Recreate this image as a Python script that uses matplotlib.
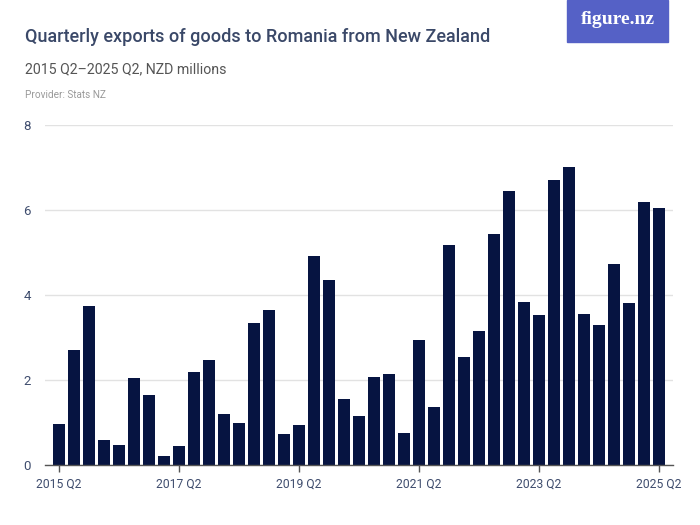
import matplotlib
matplotlib.use("Agg")
import matplotlib.pyplot as plt
from matplotlib.patches import Rectangle

values = [0.96, 2.71, 3.74, 0.59, 0.47, 2.05, 1.65, 0.21, 0.44, 2.19, 2.47,
          1.20, 0.99, 3.34, 3.65, 0.73, 0.95, 4.92, 4.35, 1.55, 1.15, 2.07,
          2.14, 0.75, 2.94, 1.36, 5.18, 2.54, 3.15, 5.44, 6.45, 3.83, 3.53,
          6.71, 7.02, 3.55, 3.29, 4.73, 3.81, 6.18, 6.04]
tick_idx = [0, 8, 16, 24, 32, 40]
tick_labels = ["2015 Q2", "2017 Q2", "2019 Q2", "2021 Q2", "2023 Q2", "2025 Q2"]
y_ticks = [0, 2, 4, 6, 8]

FONT = ['Roboto', 'DejaVu Sans']
plt.rcParams['font.family'] = FONT

fig = plt.figure(figsize=(7, 5.25), dpi=100)
ax = fig.add_axes([45/700, 1-465/525, (673-45)/700, (465-125)/525])

x = list(range(len(values)))
ax.bar(x, values, width=0.8, color="#061441", zorder=3)
ax.set_xlim(-0.93, 40.93)
ax.set_ylim(0, 8)
ax.set_yticks(y_ticks)
ax.set_xticks(tick_idx)
ax.set_xticklabels(tick_labels)
ax.yaxis.grid(True, color="#e2e2e2", linewidth=1, zorder=0)
for s in ["top", "right", "left"]:
    ax.spines[s].set_visible(False)
ax.spines["bottom"].set_color("#555555")
ax.spines["bottom"].set_linewidth(1)
ax.spines["bottom"].set_zorder(4)
ax.tick_params(axis="x", length=5, color="#555555", width=1, labelsize=8.7,
               labelcolor="#3f4d6e", pad=4)
ax.tick_params(axis="y", length=0, labelsize=9.5, labelcolor="#3f4d6e", pad=10)

fig.text(25/700, 1-37/525, "Quarterly exports of goods to Romania from New Zealand",
         fontsize=13, color="#3a4868", va="center", ha="left", weight="medium")
fig.text(25/700, 1-69/525, "2015 Q2\u20132025 Q2, NZD millions",
         fontsize=10.2, color="#555555", va="center", ha="left")
fig.text(25/700, 1-95/525, "Provider: Stats NZ",
         fontsize=7.2, color="#9a9a9a", va="center", ha="left")

fig.patches.append(Rectangle((567/700, 1-42/525), 101/700, 42/525,
                             transform=fig.transFigure, color="#5561c6", zorder=1))
fig.text(618/700, 1-20/525, "figure.nz", fontsize=14, color="white",
         ha="center", va="center", family=['Liberation Serif', 'DejaVu Serif'],
         weight="bold", zorder=2)

fig.savefig("out.png", dpi=100)
